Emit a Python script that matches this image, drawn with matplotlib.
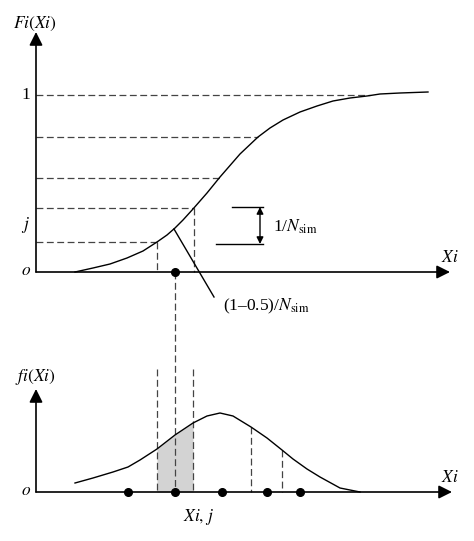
import matplotlib.pyplot as plt

plt.rcParams['mathtext.fontset'] = 'stix'
plt.rcParams['font.family'] = 'Liberation Serif'

# schematic coordinates (pixel space of the figure, y grows downwards)
# cumulative distribution curve
cdf_x = [75, 93, 110, 127, 143, 157, 167, 175, 183, 193, 207, 220, 240, 258, 270,
         283, 300, 317, 333, 350, 367, 380, 400, 428]
cdf_y = [272, 268, 264, 258, 251, 242, 235, 228, 220, 209, 193, 177, 154, 137, 128,
         120, 112, 106, 101, 98, 96, 94, 93, 92]

# probability density curve
pdf_x = [75, 93, 113, 128, 140, 157, 175, 193, 207, 220, 233, 251, 267, 282, 293,
         307, 320, 340, 360]
pdf_y = [483, 478, 472, 467, 460, 449, 435, 423, 416, 413, 416, 427, 438, 450, 459,
         469, 477, 488, 492]

# probability levels (y) and where they meet the cdf (x)
level_y = [95, 137, 178, 208, 242]
level_x = [370, 258, 220, 194, 157]

# sample points on the lower x axis
sample_x = [128, 175, 222, 267, 300]

# extra dashed verticals under the pdf
pdf_cut_x = [251, 282]
pdf_cut_y = [427, 450]

W, H = 474, 541
fig = plt.figure(figsize=(W / 100, H / 100), dpi=100)
ax = fig.add_axes([0, 0, 1, 1])
ax.set_xlim(0, W)
ax.set_ylim(H, 0)
ax.axis('off')

k = 'black'
fs = 12.5
dash = dict(color='#444444', lw=0.9, dashes=(5.5, 2.8))
arrow = dict(arrowstyle='-|>', mutation_scale=20, color=k, lw=1.2, shrinkA=0, shrinkB=0)

# ---- top panel ----
y0_top = 272
ax.annotate('', xy=(36, 32), xytext=(36, y0_top), arrowprops=arrow)
ax.annotate('', xy=(450, y0_top), xytext=(36, y0_top), arrowprops=arrow)

for yy, xx in zip(level_y, level_x):
    ax.plot([36, xx], [yy, yy], **dash)
ax.plot([157, 157], [242, y0_top], **dash)
ax.plot([194, 194], [208, y0_top], **dash)

ax.plot(cdf_x, cdf_y, color=k, lw=1.0)

# leader to the (1-0.5)/Nsim label
ax.plot([174, 214], [229, 297], color=k, lw=1.0)
ax.text(223, 306, r'(1–0.5)/$N_{\rm sim}$', fontsize=fs, ha='left', va='center')

# 1/Nsim bracket
ax.plot([232, 263], [207, 207], color=k, lw=1.0)
ax.plot([216, 263], [244, 244], color=k, lw=1.0)
ax.annotate('', xy=(260, 207), xytext=(260, 244),
            arrowprops=dict(arrowstyle='<|-|>', mutation_scale=10, color=k, lw=1.0,
                            shrinkA=0, shrinkB=0))
ax.text(273, 227, r'1/$N_{\rm sim}$', fontsize=fs, ha='left', va='center')

ax.text(35, 24, r'$Fi(Xi)$', fontsize=fs, ha='center', va='center')
ax.text(26, 95, '1', fontsize=fs, ha='center', va='center')
ax.text(26, 225, r'$j$', fontsize=fs, ha='center', va='center')
ax.text(26, 271, r'$o$', fontsize=fs, ha='center', va='center')
ax.text(450, 258, r'$Xi$', fontsize=fs, ha='center', va='center')

# ---- bottom panel ----
y0_bot = 492
ax.fill_between([x for x in pdf_x if 157 <= x <= 193],
                [y for x, y in zip(pdf_x, pdf_y) if 157 <= x <= 193],
                y0_bot, color='#d3d3d3', lw=0)

ax.annotate('', xy=(36, 389), xytext=(36, y0_bot), arrowprops=arrow)
ax.annotate('', xy=(452, y0_bot), xytext=(36, y0_bot), arrowprops=arrow)

ax.plot([175, 175], [y0_top, y0_bot], **dash)
ax.plot([157, 157], [369, y0_bot], **dash)
ax.plot([193, 193], [369, y0_bot], **dash)
for xx, yy in zip(pdf_cut_x, pdf_cut_y):
    ax.plot([xx, xx], [yy, y0_bot], **dash)

ax.plot(pdf_x, pdf_y, color=k, lw=1.0)

ax.plot([175], [y0_top], 'o', color=k, ms=5.5, zorder=5)
ax.plot(sample_x, [y0_bot] * len(sample_x), 'o', color=k, ms=5.5, zorder=5)

ax.text(35, 377, r'$fi(Xi)$', fontsize=fs, ha='center', va='center')
ax.text(26, 491, r'$o$', fontsize=fs, ha='center', va='center')
ax.text(450, 478, r'$Xi$', fontsize=fs, ha='center', va='center')
ax.text(199, 517, r'$Xi,\,j$', fontsize=fs, ha='center', va='center')

fig.savefig('out.png', dpi=100)
